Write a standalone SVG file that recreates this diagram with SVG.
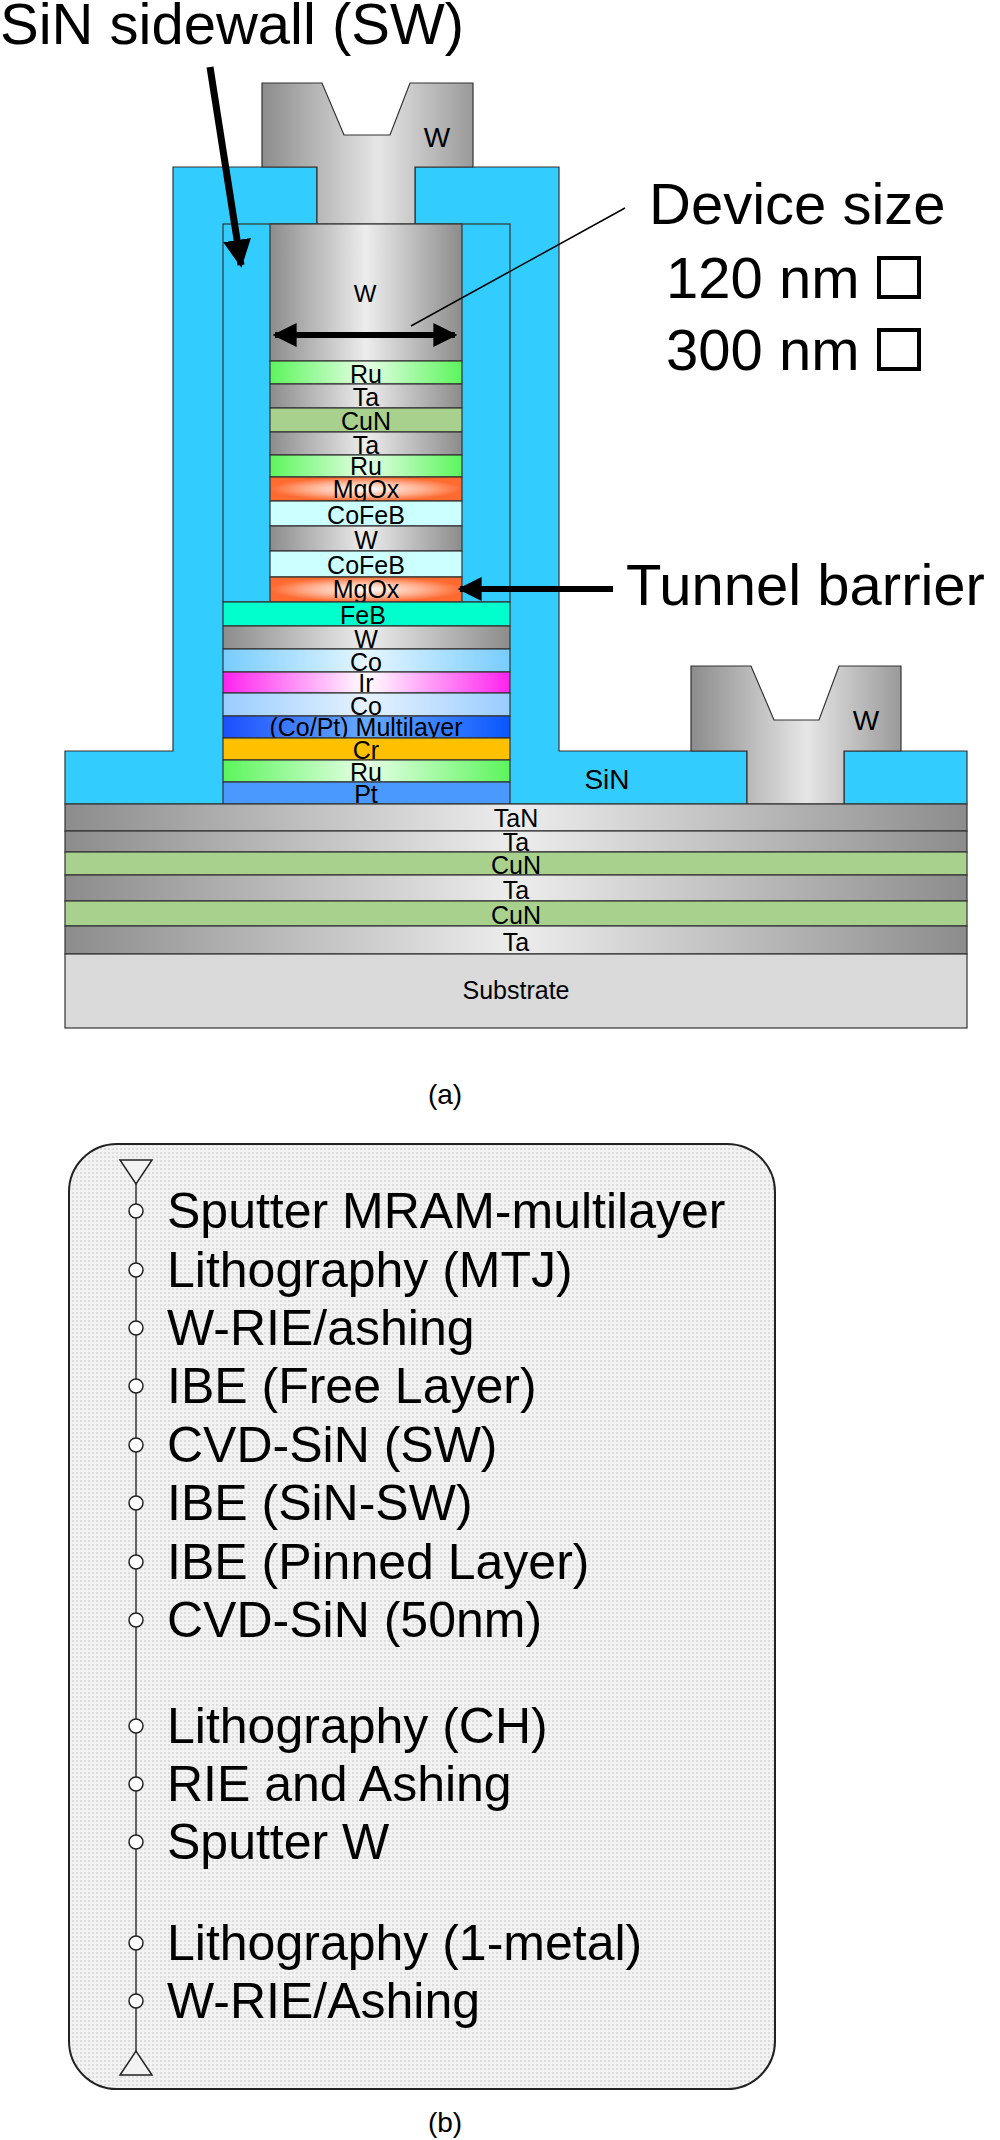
<svg xmlns="http://www.w3.org/2000/svg" width="1000" height="2140" viewBox="0 0 1000 2140">
<style>
text{font-family:"Liberation Sans",Arial,sans-serif;fill:#000}
.l{font-size:25px;text-anchor:middle}
.big{font-size:58px}
.st{font-size:50px}
.ln{stroke:#333;stroke-width:1.2}
</style>
<defs>
<linearGradient id="gray" x1="0" x2="1"><stop offset="0" stop-color="#8c8c8c"/><stop offset="0.5" stop-color="#ededed"/><stop offset="1" stop-color="#8c8c8c"/></linearGradient>
<linearGradient id="gvia" x1="0" x2="1"><stop offset="0" stop-color="#8c8c8c"/><stop offset="0.55" stop-color="#e6e6e6"/><stop offset="1" stop-color="#9a9a9a"/></linearGradient>
<linearGradient id="ru" x1="0" x2="1"><stop offset="0" stop-color="#5cf55c"/><stop offset="0.5" stop-color="#e6ffe6"/><stop offset="1" stop-color="#5cf55c"/></linearGradient>
<radialGradient id="mg" cx="0.5" cy="0.5" r="0.5"><stop offset="0" stop-color="#ffffff"/><stop offset="0.6" stop-color="#ffb090"/><stop offset="1" stop-color="#ff6a30"/></radialGradient>
<linearGradient id="co" x1="0" x2="1"><stop offset="0" stop-color="#77ccff"/><stop offset="0.5" stop-color="#e6f6ff"/><stop offset="1" stop-color="#77ccff"/></linearGradient>
<linearGradient id="co2" x1="0" x2="1"><stop offset="0" stop-color="#99ccff"/><stop offset="0.5" stop-color="#e6f2ff"/><stop offset="1" stop-color="#99ccff"/></linearGradient>
<linearGradient id="ir" x1="0" x2="1"><stop offset="0" stop-color="#ff22ee"/><stop offset="0.5" stop-color="#ffffff"/><stop offset="1" stop-color="#ff22ee"/></linearGradient>
<linearGradient id="ml" x1="0" x2="1"><stop offset="0" stop-color="#1a4fff"/><stop offset="0.5" stop-color="#66aaff"/><stop offset="1" stop-color="#0a55ff"/></linearGradient>
<pattern id="dots" width="4" height="4" patternUnits="userSpaceOnUse"><rect width="4" height="4" fill="#f2f2f2"/><rect width="2" height="2" fill="#dddddd"/></pattern>
<marker id="ah" viewBox="0 0 10 10" refX="9" refY="5" markerWidth="4" markerHeight="4" orient="auto-start-reverse"><path d="M0,0 L10,5 L0,10 Z" fill="#000"/></marker>
</defs>

<g id="panel-a">
<g id="sin">
<path d="M65,751 H173 V167 H317 V224 H415 V167 H559 V751 H747 V804 H65 Z" fill="#33ccff" class="ln"/>
<path d="M844,751 H967 V804 H844 Z" fill="#33ccff" class="ln"/>
<rect x="223" y="224" width="287" height="378" fill="#33ccff" class="ln"/>
<text x="607" y="789" font-size="28" text-anchor="middle">SiN</text>
</g>
<g id="via-top">
<path d="M262,83 H322 L344,135 H390 L410,83 H473 V167 H415 V224 H317 V167 H262 Z" fill="url(#gvia)" class="ln"/>
<text x="437" y="147" font-size="28" text-anchor="middle">W</text>
</g>
<g id="via-right">
<path d="M691,666 H751 L774,720 H819 L839,666 H901 V751 H844 V804 H747 V751 H691 Z" fill="url(#gvia)" class="ln"/>
<text x="866" y="730" font-size="28" text-anchor="middle">W</text>
</g>
<g id="pillar">
<rect x="270" y="224" width="192" height="137" fill="url(#gray)" class="ln"/>
<text x="365" y="302" font-size="24" text-anchor="middle">W</text>
<rect x="270" y="361" width="192" height="23" fill="url(#ru)" class="ln"/><text class="l" x="366" y="383">Ru</text>
<rect x="270" y="384" width="192" height="24" fill="url(#gray)" class="ln"/><text class="l" x="366" y="406">Ta</text>
<rect x="270" y="408" width="192" height="24" fill="#a9d18e" class="ln"/><text class="l" x="366" y="430">CuN</text>
<rect x="270" y="432" width="192" height="23" fill="url(#gray)" class="ln"/><text class="l" x="366" y="454">Ta</text>
<rect x="270" y="455" width="192" height="22" fill="url(#ru)" class="ln"/><text class="l" x="366" y="475">Ru</text>
<rect x="270" y="477" width="192" height="24" fill="url(#mg)" class="ln"/><text class="l" x="366" y="498">MgOx</text>
<rect x="270" y="501" width="192" height="25" fill="#ccffff" class="ln"/><text class="l" x="366" y="524">CoFeB</text>
<rect x="270" y="526" width="192" height="25" fill="url(#gray)" class="ln"/><text class="l" x="366" y="549">W</text>
<rect x="270" y="551" width="192" height="26" fill="#ccffff" class="ln"/><text class="l" x="366" y="574">CoFeB</text>
<rect x="270" y="577" width="192" height="25" fill="url(#mg)" class="ln"/><text class="l" x="366" y="598">MgOx</text>
</g>
<g id="lower-stack">
<rect x="223" y="602" width="287" height="24" fill="#00ffcc" class="ln"/><text class="l" x="363" y="624">FeB</text>
<rect x="223" y="626" width="287" height="23" fill="url(#gray)" class="ln"/><text class="l" x="366" y="648">W</text>
<rect x="223" y="649" width="287" height="23" fill="url(#co)" class="ln"/><text class="l" x="366" y="671">Co</text>
<rect x="223" y="672" width="287" height="21" fill="url(#ir)" class="ln"/><text class="l" x="366" y="692">Ir</text>
<rect x="223" y="693" width="287" height="23" fill="url(#co2)" class="ln"/><text class="l" x="366" y="715">Co</text>
<rect x="223" y="716" width="287" height="22" fill="url(#ml)" class="ln"/><text class="l" x="366" y="736">(Co/Pt) Multilayer</text>
<rect x="223" y="738" width="287" height="22" fill="#ffc000" class="ln"/><text class="l" x="366" y="759">Cr</text>
<rect x="223" y="760" width="287" height="22" fill="url(#ru)" class="ln"/><text class="l" x="366" y="781">Ru</text>
<rect x="223" y="782" width="287" height="22" fill="#4a99ff" class="ln"/><text class="l" x="366" y="803">Pt</text>
</g>
<g id="base">
<rect x="65" y="804" width="902" height="27" fill="url(#gray)" class="ln"/><text class="l" x="516" y="827">TaN</text>
<rect x="65" y="831" width="902" height="21" fill="url(#gray)" class="ln"/><text class="l" x="516" y="851">Ta</text>
<rect x="65" y="852" width="902" height="23" fill="#a9d18e" class="ln"/><text class="l" x="516" y="874">CuN</text>
<rect x="65" y="875" width="902" height="26" fill="url(#gray)" class="ln"/><text class="l" x="516" y="899">Ta</text>
<rect x="65" y="901" width="902" height="25" fill="#a9d18e" class="ln"/><text class="l" x="516" y="924">CuN</text>
<rect x="65" y="926" width="902" height="28" fill="url(#gray)" class="ln"/><text class="l" x="516" y="951">Ta</text>
<rect x="65" y="954" width="902" height="74" fill="#dadada" class="ln"/><text class="l" x="516" y="999">Substrate</text>
</g>
<g id="annotations">
<text class="big" x="0" y="44">SiN sidewall (SW)</text>
<text class="big" x="649" y="224">Device size</text>
<text class="big" x="666" y="298">120 nm</text>
<rect x="879" y="258" width="40" height="39" fill="none" stroke="#000" stroke-width="4"/>
<text class="big" x="666" y="370">300 nm</text>
<rect x="879" y="330" width="40" height="39" fill="none" stroke="#000" stroke-width="4"/>
<text class="big" x="626" y="605">Tunnel barrier</text>
</g>
<g id="connectors">
<line x1="210" y1="67" x2="241" y2="265" stroke="#000" stroke-width="7" marker-end="url(#ah)"/>
<line x1="625" y1="208" x2="411" y2="326" stroke="#000" stroke-width="1.5"/>
<line x1="275" y1="335" x2="455" y2="335" stroke="#000" stroke-width="6" marker-start="url(#ah)" marker-end="url(#ah)"/>
<line x1="613" y1="589" x2="460" y2="589" stroke="#000" stroke-width="6" marker-end="url(#ah)"/>
</g>
<text x="445" y="1104" font-size="28" text-anchor="middle">(a)</text>
</g>

<g id="panel-b">
<rect x="69" y="1144" width="706" height="945" rx="48" fill="url(#dots)" stroke="#222" stroke-width="2"/>
<line x1="136" y1="1160" x2="136" y2="2075" stroke="#333" stroke-width="1.5"/>
<path d="M120,1160 H152 L136,1184 Z" fill="#f2f2f2" stroke="#222" stroke-width="1.5"/>
<path d="M120,2075 H152 L136,2051 Z" fill="#f2f2f2" stroke="#222" stroke-width="1.5"/>
<g fill="#fff" stroke="#222" stroke-width="1.5">
<circle cx="136" cy="1211" r="7"/><circle cx="136" cy="1270" r="7"/><circle cx="136" cy="1328" r="7"/><circle cx="136" cy="1386" r="7"/><circle cx="136" cy="1445" r="7"/><circle cx="136" cy="1503" r="7"/><circle cx="136" cy="1562" r="7"/><circle cx="136" cy="1620" r="7"/><circle cx="136" cy="1726" r="7"/><circle cx="136" cy="1784" r="7"/><circle cx="136" cy="1842" r="7"/><circle cx="136" cy="1943" r="7"/><circle cx="136" cy="2001" r="7"/>
</g>
<g class="steps">
<text class="st" x="167" y="1228">Sputter MRAM-multilayer</text>
<text class="st" x="167" y="1287">Lithography (MTJ)</text>
<text class="st" x="167" y="1345">W-RIE/ashing</text>
<text class="st" x="167" y="1403">IBE (Free Layer)</text>
<text class="st" x="167" y="1462">CVD-SiN (SW)</text>
<text class="st" x="167" y="1520">IBE (SiN-SW)</text>
<text class="st" x="167" y="1579">IBE (Pinned Layer)</text>
<text class="st" x="167" y="1637">CVD-SiN (50nm)</text>
<text class="st" x="167" y="1743">Lithography (CH)</text>
<text class="st" x="167" y="1801">RIE and Ashing</text>
<text class="st" x="167" y="1859">Sputter W</text>
<text class="st" x="167" y="1960">Lithography (1-metal)</text>
<text class="st" x="167" y="2018">W-RIE/Ashing</text>
</g>
<text x="445" y="2132" font-size="28" text-anchor="middle">(b)</text>
</g>
</svg>
